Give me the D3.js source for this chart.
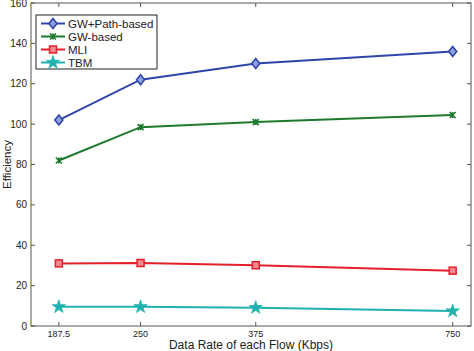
<!DOCTYPE html>
<html>
<head>
<meta charset="utf-8">
<script src="https://cdn.jsdelivr.net/npm/d3@7"></script>
<style>
  body { margin: 0; background: #fff; }
  text { font-family: "Liberation Sans", Arial, sans-serif; }
</style>
</head>
<body>
<script>
const rates = [187.5, 250, 375, 750];
const gwPath = [102, 122, 130, 136];
const gwBased = [82, 98.5, 101, 104.5];
const mli = [31, 31.2, 30.1, 27.4];
const tbm = [9.5, 9.5, 9.1, 7.4];
const yTicks = [0, 20, 40, 60, 80, 100, 120, 140, 160];

const series = [
  {name: "GW+Path-based", values: gwPath, color: "#2e46ab", marker: "diamond"},
  {name: "GW-based", values: gwBased, color: "#1d7a2c", marker: "xstar"},
  {name: "MLI", values: mli, color: "#e3202b", marker: "square"},
  {name: "TBM", values: tbm, color: "#1fb2b0", marker: "star"}
];

const W = 474, H = 351;
const pLeft = 31, pRight = 471, pTop = 3, pBottom = 326;

const svg = d3.select("body").append("svg")
  .attr("width", W)
  .attr("height", H);

const x = d3.scaleLog().domain([170, 800]).range([pLeft, pRight]);
const y = d3.scaleLinear().domain([0, 160]).range([pBottom, pTop]);

// frame
svg.append("rect")
  .attr("x", pLeft).attr("y", pTop)
  .attr("width", pRight - pLeft).attr("height", pBottom - pTop)
  .attr("fill", "none").attr("stroke", "#555").attr("stroke-width", 1);

// inward ticks, matlab style
const tk = 4;
const ax = svg.append("g").attr("stroke", "#555").attr("stroke-width", 1);
yTicks.forEach(v => {
  ax.append("line").attr("x1", pLeft).attr("x2", pLeft + tk).attr("y1", y(v)).attr("y2", y(v));
  ax.append("line").attr("x1", pRight).attr("x2", pRight - tk).attr("y1", y(v)).attr("y2", y(v));
});
rates.forEach(v => {
  ax.append("line").attr("x1", x(v)).attr("x2", x(v)).attr("y1", pBottom).attr("y2", pBottom - tk);
  ax.append("line").attr("x1", x(v)).attr("x2", x(v)).attr("y1", pTop).attr("y2", pTop + tk);
});

svg.append("g").selectAll("text").data(yTicks).join("text")
  .attr("x", pLeft - 4).attr("y", d => y(d) + 3.5)
  .attr("text-anchor", "end").attr("font-size", 10).attr("fill", "#222")
  .text(d => d);

svg.append("g").selectAll("text").data(rates).join("text")
  .attr("x", d => x(d)).attr("y", pBottom + 10.5)
  .attr("text-anchor", "middle").attr("font-size", 9).attr("fill", "#222")
  .text(d => d);

svg.append("text")
  .attr("x", 251).attr("y", 349)
  .attr("text-anchor", "middle").attr("font-size", 12).attr("fill", "#222")
  .text("Data Rate of each Flow (Kbps)");

svg.append("text")
  .attr("transform", "translate(11," + ((pTop + pBottom) / 2) + ") rotate(-90)")
  .attr("text-anchor", "middle").attr("font-size", 11.5).attr("fill", "#222")
  .text("Efficiency");

function drawMarker(g, type, cx, cy, color) {
  if (type === "diamond") {
    g.append("path")
      .attr("d", `M${cx},${cy - 5}L${cx + 4},${cy}L${cx},${cy + 5}L${cx - 4},${cy}Z`)
      .attr("fill", "#8fa0dd").attr("stroke", color).attr("stroke-width", 1.6);
  } else if (type === "xstar") {
    g.append("path")
      .attr("d", `M${cx - 3},${cy - 3}L${cx + 3},${cy + 3}M${cx - 3},${cy + 3}L${cx + 3},${cy - 3}M${cx},${cy - 3}L${cx},${cy + 3}`)
      .attr("stroke", color).attr("stroke-width", 1.6);
  } else if (type === "square") {
    g.append("rect")
      .attr("x", cx - 3.5).attr("y", cy - 3.5).attr("width", 7).attr("height", 7)
      .attr("fill", "#f08a90").attr("stroke", color).attr("stroke-width", 1.5);
  } else if (type === "star") {
    g.append("path")
      .attr("d", d3.symbol().type(d3.symbolStar).size(55)())
      .attr("transform", `translate(${cx},${cy})`)
      .attr("fill", color).attr("stroke", color).attr("stroke-width", 0.8);
  }
}

const line = d3.line().x(d => x(d[0])).y(d => y(d[1]));

series.forEach(s => {
  const pts = rates.map((r, i) => [r, s.values[i]]);
  svg.append("path")
    .attr("d", line(pts))
    .attr("fill", "none").attr("stroke", s.color).attr("stroke-width", 2);
  const g = svg.append("g");
  pts.forEach(p => drawMarker(g, s.marker, x(p[0]), y(p[1]), s.color));
});

// legend
const lg = svg.append("g");
lg.append("rect")
  .attr("x", 36).attr("y", 15).attr("width", 121).attr("height", 54)
  .attr("fill", "#fff").attr("stroke", "#222").attr("stroke-width", 1);
series.forEach((s, i) => {
  const yy = 23.5 + i * 13;
  lg.append("line").attr("x1", 41).attr("x2", 65).attr("y1", yy).attr("y2", yy)
    .attr("stroke", s.color).attr("stroke-width", 2);
  drawMarker(lg, s.marker, 53, yy, s.color);
  lg.append("text").attr("x", 68).attr("y", yy + 4)
    .attr("font-size", 11.5).attr("fill", "#222").text(s.name);
});
</script>
</body>
</html>
